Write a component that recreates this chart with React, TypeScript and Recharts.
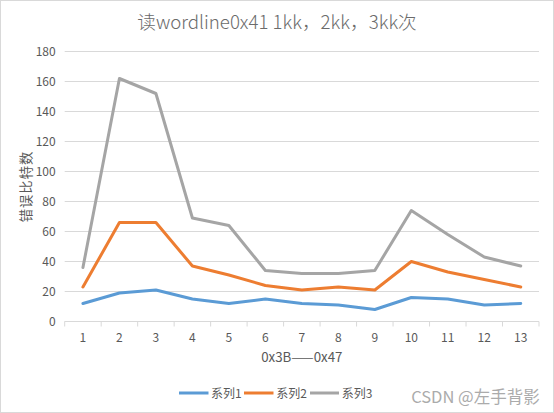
import React from 'react';
import { LineChart, Line, XAxis, YAxis, CartesianGrid, Legend, Label } from 'recharts';

const categories = ['1', '2', '3', '4', '5', '6', '7', '8', '9', '10', '11', '12', '13'];
const series1 = [12, 19, 21, 15, 12, 15, 12, 11, 8, 16, 15, 11, 12];
const series2 = [23, 66, 66, 37, 31, 24, 21, 23, 21, 40, 33, 28, 23];
const series3 = [36, 162, 152, 69, 64, 34, 32, 32, 34, 74, 58, 43, 37];
const seriesNames = ['系列1', '系列2', '系列3'];
const yTicks = [0, 20, 40, 60, 80, 100, 120, 140, 160, 180];

const data = categories.map((c, i) => ({
  x: c,
  s1: series1[i],
  s2: series2[i],
  s3: series3[i],
}));

const W = 554;
const H = 413;
const Y_AXIS_W = 64.7;
const MARGIN = { top: 51.5, right: 15, bottom: 21.5, left: 0 };
const PLOT_W = W - Y_AXIS_W - MARGIN.right - MARGIN.left;
const HALF_BAND = PLOT_W / categories.length / 2;

const FONT = '"Noto Sans CJK SC", "Noto Sans", sans-serif';
const TEXT = '#595959';
const GRID = '#d9d9d9';

const XTick = (props: any) => {
  const { x, y, payload, index } = props;
  const axisY = y - 10;
  const last = index === categories.length - 1;
  return (
    <g>
      <line x1={x - HALF_BAND} x2={x - HALF_BAND} y1={axisY} y2={axisY + 5} stroke={GRID} strokeWidth={1} />
      {last && (
        <line x1={x + HALF_BAND} x2={x + HALF_BAND} y1={axisY} y2={axisY + 5} stroke={GRID} strokeWidth={1} />
      )}
      <text x={x} y={y + 4.5} textAnchor="middle" dominantBaseline="central" fill={TEXT} fontSize={12} fontFamily={FONT}>
        {payload.value}
      </text>
    </g>
  );
};

const LegendContent = (props: any) => {
  const { payload } = props;
  return (
    <div style={{ display: 'flex', justifyContent: 'center', alignItems: 'center', height: 20, fontFamily: FONT }}>
      {(payload || []).map((entry: any) => (
        <div key={entry.value} style={{ display: 'flex', alignItems: 'center', marginRight: 2.6 }}>
          <svg width={29.5} height={6} style={{ marginRight: 2.5 }}>
            <line x1={0} x2={29.5} y1={3} y2={3} stroke={entry.color} strokeWidth={3} />
          </svg>
          <span style={{ fontSize: 12, color: TEXT, lineHeight: '20px' }}>{entry.value}</span>
        </div>
      ))}
    </div>
  );
};

export default function App() {
  return (
    <div
      style={{
        position: 'absolute',
        left: 0,
        top: 0,
        width: W,
        height: H,
        background: '#fff',
        boxSizing: 'border-box',
        border: `1px solid ${GRID}`,
        fontFamily: FONT,
      }}
    >
      <div
        style={{
          position: 'absolute',
          left: -1,
          top: 8,
          width: W,
          textAlign: 'center',
          fontSize: 18.67,
          lineHeight: '24px',
          color: '#6b6b6b',
          fontFamily: FONT,
          fontWeight: 300,
        }}
      >
        读wordline0x41 1kk，2kk，3kk次
      </div>
      <div style={{ position: 'absolute', left: -1, top: -1 }}>
        <LineChart width={W} height={H} data={data} margin={MARGIN}>
          <CartesianGrid vertical={false} stroke={GRID} strokeWidth={1} />
          <XAxis
            dataKey="x"
            interval={0}
            height={50}
            padding={{ left: HALF_BAND, right: HALF_BAND }}
            axisLine={{ stroke: GRID, strokeWidth: 1 }}
            tickLine={false}
            tickSize={5}
            tickMargin={5}
            tick={<XTick />}
          >
            <Label
              content={(p: any) => {
                const vb = p.viewBox;
                return (
                  <text
                    x={vb.x + vb.width / 2}
                    y={vb.y + 35}
                    textAnchor="middle"
                    dominantBaseline="central"
                    fill={TEXT}
                    fontSize={13.33}
                    fontFamily={FONT}
                  >
                    0x3B——0x47
                  </text>
                );
              }}
            />
          </XAxis>
          <YAxis
            width={Y_AXIS_W}
            domain={[0, 180]}
            ticks={yTicks}
            axisLine={false}
            tickLine={false}
            tickSize={0}
            tickMargin={9}
            tick={{ fill: TEXT, fontSize: 12, fontFamily: FONT }}
          >
            <Label
              content={(p: any) => {
                const vb = p.viewBox;
                const cx = 25;
                const cy = vb.y + vb.height / 2;
                return (
                  <text
                    x={cx}
                    y={cy}
                    transform={`rotate(-90, ${cx}, ${cy})`}
                    textAnchor="middle"
                    dominantBaseline="central"
                    fill={TEXT}
                    fontSize={13.33}
                    letterSpacing={1}
                    fontFamily={FONT}
                  >
                    错误比特数
                  </text>
                );
              }}
            />
          </YAxis>
          <Legend
            verticalAlign="bottom"
            align="center"
            height={20}
            content={<LegendContent />}
            wrapperStyle={{ left: 0, width: W, bottom: 10, height: 20 }}
          />
          <Line type="linear" dataKey="s1" name={seriesNames[0]} stroke="#5B9BD5" strokeWidth={3} dot={false} activeDot={false} strokeLinejoin="round" strokeLinecap="round" isAnimationActive={false} />
          <Line type="linear" dataKey="s2" name={seriesNames[1]} stroke="#ED7D31" strokeWidth={3} dot={false} activeDot={false} strokeLinejoin="round" strokeLinecap="round" isAnimationActive={false} />
          <Line type="linear" dataKey="s3" name={seriesNames[2]} stroke="#A5A5A5" strokeWidth={3} dot={false} activeDot={false} strokeLinejoin="round" strokeLinecap="round" isAnimationActive={false} />
        </LineChart>
      </div>
      <div
        style={{
          position: 'absolute',
          right: 553 - 539.7,
          top: 395.7 - 12 - 1,
          fontSize: 16.5,
          lineHeight: '24px',
          color: '#ababab',
          fontFamily: FONT,
          whiteSpace: 'nowrap',
        }}
      >
        CSDN @左手背影
      </div>
    </div>
  );
}
